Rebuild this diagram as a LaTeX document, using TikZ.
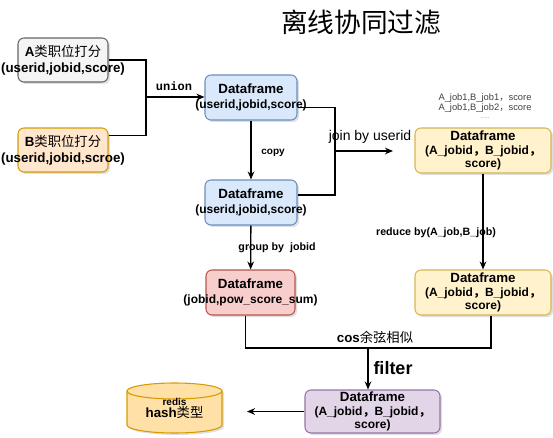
\documentclass[tikz,border=0pt]{standalone}
\usepackage{fontspec}
\setmainfont{Liberation Sans}
\setmonofont{Liberation Mono}
\newfontfamily\cjk{Noto Sans CJK SC}
\usepackage{tikz}
\usetikzlibrary{arrows.meta,shadows}

\definecolor{grayfill}{HTML}{F5F5F5}\definecolor{grayline}{HTML}{666666}
\definecolor{orangefill}{HTML}{FFE6CC}\definecolor{orangeline}{HTML}{D79B00}
\definecolor{bluefill}{HTML}{DAE8FC}\definecolor{blueline}{HTML}{6C8EBF}
\definecolor{redfill}{HTML}{F8CECC}\definecolor{redline}{HTML}{B85450}
\definecolor{yellowfill}{HTML}{FFF2CC}\definecolor{yellowline}{HTML}{D6B656}
\definecolor{purplefill}{HTML}{E1D5E7}\definecolor{purpleline}{HTML}{9673A6}
\definecolor{redisfill}{HTML}{FFE0A6}

% a line that may stick out of its box
\newcommand{\spill}[1]{\makebox[0pt]{#1}}
\newcommand{\fc}{{\cjk ，}}
\newcommand{\headsize}{\fontsize{10}{12}\selectfont}

\begin{document}
\begin{tikzpicture}[x=0.75pt,y=-0.75pt,>={Stealth[length=6pt,width=5pt]},line width=1pt,
	box/.style={draw,rounded corners=4.5pt,line width=0.8pt,align=center,inner sep=0pt,
		font=\bfseries\fontsize{9}{11.5}\selectfont,
		drop shadow={shadow xshift=1.5pt,shadow yshift=-1.5pt,opacity=0.25}},
	dfbox/.style={box,minimum width=69pt,minimum height=33.75pt},
	widebox/.style={box,minimum width=102pt,minimum height=33.75pt,font=\bfseries\fontsize{9}{10}\selectfont},
	lbl/.style={inner sep=0pt,font=\bfseries\fontsize{8}{9}\selectfont}]
	\useasboundingbox (0,0) rectangle (553,438);

	\node (title) at (361,22) {\cjk\fontsize{20}{22}\selectfont 离线协同过滤};

	% inputs
	\node[box,fill=grayfill,draw=grayline,minimum width=67.5pt,minimum height=33pt,font=\bfseries\fontsize{10}{12}\selectfont]
		(scoreA) at (63,60) {A{\mdseries\cjk 类职位打分}\\\spill{(userid,jobid,score)}};
	\node[box,fill=orangefill,draw=orangeline,minimum width=67.5pt,minimum height=33pt,font=\bfseries\fontsize{10}{12}\selectfont]
		(scoreB) at (63,150) {B{\mdseries\cjk 类职位打分}\\\spill{(userid,jobid,scroe)}};

	% dataframes
	\node[dfbox,fill=bluefill,draw=blueline] (df1) at (251,97.5) {{\headsize Dataframe}\\\spill{(userid,jobid,score)}};
	\node[dfbox,fill=bluefill,draw=blueline] (df2) at (251,202.5) {{\headsize Dataframe}\\\spill{(userid,jobid,score)}};
	\node[dfbox,fill=redfill,draw=redline,minimum width=66.75pt] (dfsum) at (250.5,292.5) {{\headsize Dataframe}\\\spill{(jobid,pow\_score\_sum)}};
	\node[widebox,fill=yellowfill,draw=yellowline] (dfpair) at (483,150.5) {{\headsize Dataframe}\\(A\_jobid\fc B\_jobid\fc\\score)};
	\node[widebox,fill=yellowfill,draw=yellowline] (dfreduce) at (483,292.5) {{\headsize Dataframe}\\(A\_jobid\fc B\_jobid\fc\\score)};
	\node[widebox,fill=purplefill,draw=purpleline,minimum width=101.25pt,minimum height=32.25pt] (dfcos) at (372.5,411.5) {{\headsize Dataframe}\\(A\_jobid\fc B\_jobid\fc\\score)};

	% redis cylinder
	\draw[fill=redisfill,draw=orangeline,line width=0.8pt,drop shadow={shadow xshift=1.5pt,shadow yshift=-1.5pt,opacity=0.25}]
		(127,425) -- (127,391) arc[start angle=180,end angle=0,x radius=35.625pt,y radius=6pt]
		-- (222,425) arc[start angle=0,end angle=-180,x radius=35.625pt,y radius=6pt] -- cycle;
	\draw[draw=orangeline,line width=0.8pt] (127,391) arc[start angle=180,end angle=360,x radius=35.625pt,y radius=6pt];
	\node[inner sep=0pt,align=center,font=\bfseries\fontsize{10}{9}\selectfont] (redis) at (174.5,408)
		{{\fontsize{7.5}{9}\selectfont redis}\\hash{\mdseries\cjk 类型}};

	% connectors
	\coordinate (u) at (146,97);
	\draw (scoreA.east) -| (u) |- ([yshift=11pt]scoreB.east);
	\draw[->] (u) -- (u -| df1.west);
	\node[inner sep=0pt,font=\ttfamily\bfseries\fontsize{9}{10}\selectfont] (union) at (174,86) {union};

	\draw[->] (df1) -- (df2);
	\node[lbl,font=\bfseries\fontsize{7.5}{9}\selectfont] (copy) at (273,153) {copy};

	\coordinate (j) at (335,151);
	\coordinate (jend) at (393,151);
	\draw ([yshift=-7.5pt]df1.east) -| (j) |- ([yshift=5.6pt]df2.east);
	\draw[->] (j) -- (jend);
	\node[inner sep=0pt,font=\fontsize{10.5}{12}\selectfont] (join) at (370,137) {join by userid};

	\node[inner sep=0pt,align=center,text=black!75,font=\fontsize{7}{7.5}\selectfont] (sample) at (485,103)
		{A\_job1,B\_job1\fc score\\A\_job1,B\_job2\fc score};
	\node[inner sep=0pt,text=black!40,font=\fontsize{5}{6}\selectfont] (dots) at (485,118) {.....};

	\draw[->] (df2) -- (dfsum);
	\node[lbl] (group) at (277,248) {group by~ jobid};

	\draw[->] (dfpair) -- (dfreduce);
	\node[lbl] (reduce) at (436,233) {reduce by(A\_job,B\_job)};

	\coordinate (c) at (368,348);
	\draw ([xshift=-4pt]dfsum.south) |- (c) -| ([xshift=6pt]dfreduce.south);
	\draw[->] (c) -- (c |- dfcos.north);
	\node[inner sep=0pt,font=\bfseries\fontsize{10}{12}\selectfont] (cos) at (375,337) {cos{\mdseries\cjk 余弦相似}};
	\node[inner sep=0pt,font=\bfseries\fontsize{13.5}{15}\selectfont] (filter) at (393,368) {filter};

	\coordinate (rend) at (247,411.5);
	\draw[->] (dfcos) -- (rend);
\end{tikzpicture}
\end{document}
